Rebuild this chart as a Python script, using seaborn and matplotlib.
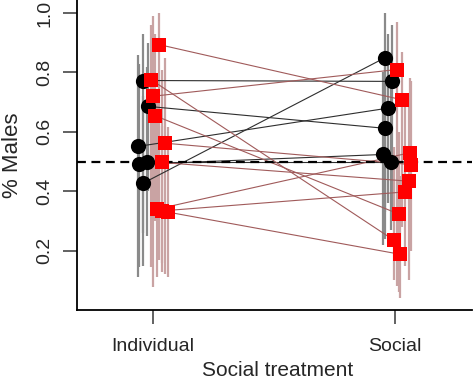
import matplotlib
matplotlib.use("Agg")
import matplotlib.pyplot as plt
import numpy as np
import pandas as pd
import seaborn as sns

# paired proportions of males: individual vs social rearing
treatments = ["Individual", "Social"]

black_ind = [0.773, 0.686, 0.551, 0.427, 0.491, 0.497]
black_soc = [0.770, 0.612, 0.680, 0.850, 0.524, 0.497]
black_ind_lo = [0.26, 0.40, 0.11, 0.15, 0.145, 0.25]
black_ind_hi = [0.93, 0.90, 0.86, 0.72, 0.83, 0.82]
black_soc_lo = [0.31, 0.24, 0.36, 0.33, 0.22, 0.27]
black_soc_hi = [0.96, 0.86, 0.93, 1.00, 0.80, 0.78]

red_ind = [0.894, 0.776, 0.720, 0.655, 0.562, 0.497, 0.340, 0.334, 0.330]
red_soc = [0.708, 0.235, 0.810, 0.323, 0.490, 0.434, 0.530, 0.398, 0.188]
red_ind_lo = [0.17, 0.145, 0.077, 0.30, 0.12, 0.16, 0.11, 0.13, 0.11]
red_ind_hi = [1.00, 0.96, 0.99, 0.93, 0.85, 0.81, 0.70, 0.62, 0.615]
red_soc_lo = [0.28, 0.10, 0.08, 0.06, 0.20, 0.10, 0.27, 0.15, 0.04]
red_soc_hi = [0.87, 0.55, 0.97, 0.60, 0.77, 0.70, 0.78, 0.72, 0.45]

# horizontal jitter (fraction of the gap between treatments)
black_ind_jit = [-0.041, -0.021, -0.062, -0.041, -0.058, -0.025]
black_soc_jit = [-0.012, -0.041, -0.029, -0.041, -0.050, -0.017]
red_ind_jit = [0.025, -0.008, 0.0, 0.008, 0.050, 0.037, 0.017, 0.037, 0.062]
red_soc_jit = [0.029, -0.004, 0.008, 0.017, 0.066, 0.058, 0.062, 0.041, 0.021]


def long_table(group, ind, soc, ilo, ihi, slo, shi, ijit, sjit):
    rows = []
    for i in range(len(ind)):
        pid = f"{group}{i}"
        rows.append(dict(pair=pid, group=group, x=0 + ijit[i], value=ind[i], lo=ilo[i], hi=ihi[i]))
        rows.append(dict(pair=pid, group=group, x=1 + sjit[i], value=soc[i], lo=slo[i], hi=shi[i]))
    return pd.DataFrame(rows)


df = pd.concat([
    long_table("black", black_ind, black_soc, black_ind_lo, black_ind_hi,
               black_soc_lo, black_soc_hi, black_ind_jit, black_soc_jit),
    long_table("red", red_ind, red_soc, red_ind_lo, red_ind_hi,
               red_soc_lo, red_soc_hi, red_ind_jit, red_soc_jit),
], ignore_index=True)

sns.set_style("ticks")
plt.rcParams["font.family"] = ["Liberation Sans", "DejaVu Sans"]

fig = plt.figure(figsize=(4.74, 3.81), dpi=100)
ax = fig.add_axes([0.162, 0.186, 0.834, 0.814])

# error bars
bar_cols = {"black": "#8a8a8a", "red": "#c9a3a3"}
for g in ["black", "red"]:
    d = df[df.group == g]
    ax.vlines(d.x, d.lo, d.hi, color=bar_cols[g], lw=1.6, zorder=1)

# pair lines
sns.lineplot(data=df, x="x", y="value", units="pair", estimator=None,
             hue="group", palette={"black": "#2e2e2e", "red": "#a05a5a"},
             lw=0.8, sort=False, legend=False, ax=ax, zorder=2)

ax.axhline(0.5, color="black", lw=1.6, ls=(0, (4, 2.5)), zorder=2.5)

# points
sns.scatterplot(data=df[df.group == "black"], x="x", y="value", color="black",
                marker="o", s=120, edgecolor="black", linewidth=0, ax=ax, zorder=3)
sns.scatterplot(data=df[df.group == "red"], x="x", y="value", color="#ff0000",
                marker="s", s=110, edgecolor="#ff0000", linewidth=0, ax=ax, zorder=4)

ax.set_xlim(-0.314, 1.318)
ax.set_ylim(0, 1.044)
ax.set_xticks([0, 1])
ax.set_xticklabels(treatments, fontsize=14)
ax.set_yticks([0.2, 0.4, 0.6, 0.8, 1.0])
ax.set_yticklabels(["0.2", "0.4", "0.6", "0.8", "1.0"], fontsize=14,
                   rotation=90, va="center")
ax.tick_params(length=10, width=1.3, color="#555555")
ax.tick_params(axis="x", pad=10)
ax.tick_params(axis="y", pad=7)
ax.set_xlabel("Social treatment", fontsize=15)
ax.set_ylabel("% Males", fontsize=16)
ax.yaxis.set_label_coords(-0.135, 0.5)
ax.xaxis.set_label_coords(0.509, -0.165)

for s in ["top", "right"]:
    ax.spines[s].set_visible(False)
for s in ["left", "bottom"]:
    ax.spines[s].set_linewidth(1.3)
    ax.spines[s].set_color("black")

fig.savefig("out.png", dpi=100)
